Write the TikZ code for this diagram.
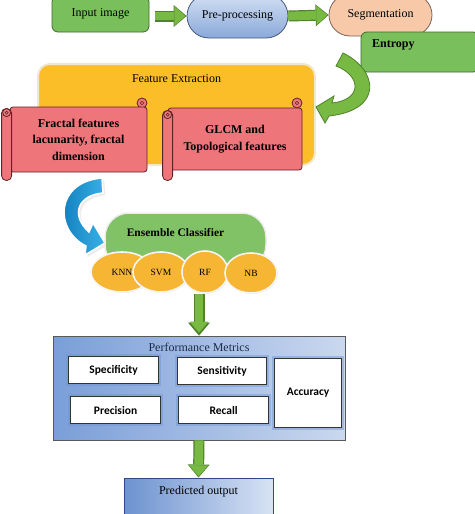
\documentclass[tikz,border=0pt]{standalone}
\usepackage{xcolor}
\usepackage{fontspec}
\setmainfont{Liberation Serif}
\newfontfamily\metricfont{Carlito}
\usepackage{tikz}
\usetikzlibrary{positioning,arrows.meta,shapes.geometric,shapes.misc,calc,shadows}

\definecolor{stagegreen}{HTML}{79BF5C}
\definecolor{stageline}{HTML}{3E6B2B}
\definecolor{preblueA}{HTML}{D3E0F3}
\definecolor{preblueB}{HTML}{8AA8DA}
\definecolor{preline}{HTML}{46587A}
\definecolor{segpeach}{HTML}{F8C9A8}
\definecolor{segline}{HTML}{7A6455}
\definecolor{featgold}{HTML}{FBBE28}
\definecolor{featrim}{HTML}{F2E6CC}
\definecolor{scrollred}{HTML}{EE767B}
\definecolor{scrollline}{HTML}{5E2326}
\definecolor{ensgreen}{HTML}{80C265}
\definecolor{algogold}{HTML}{F6B634}
\definecolor{arrowgreen}{HTML}{78B943}
\definecolor{arrowrim}{HTML}{4F8229}
\definecolor{curveblueA}{HTML}{0A78B8}
\definecolor{curveblueB}{HTML}{3AB0E6}
\definecolor{perfblueA}{HTML}{7A9ED8}
\definecolor{perfblueB}{HTML}{CAD8EF}
\definecolor{predblueA}{HTML}{6C92D0}
\definecolor{predblueB}{HTML}{D8E3F4}
\definecolor{predline}{HTML}{2D4A85}
\definecolor{perftext}{HTML}{1E2B4A}
\definecolor{glowblue}{HTML}{6F93D2}

\begin{document}
\begin{tikzpicture}[
  x=1pt, y=-1pt,
  font=\fontsize{12}{14}\selectfont,
  stage/.style={
    rectangle, rounded corners=6pt,
    draw=stageline, line width=0.8pt,
    fill=stagegreen, inner sep=0pt
  },
  capsule/.style={
    rounded rectangle, draw=preline, line width=0.8pt, inner sep=0pt
  },
  featbox/.style={
    rectangle, rounded corners=12pt,
    draw=featrim, line width=2pt, fill=featgold
  },
  scrollbody/.style={
    rectangle, rounded corners=3pt,
    draw=scrollline, line width=0.8pt, fill=scrollred,
    align=center, font=\fontsize{12}{16.5}\selectfont\bfseries, inner sep=0pt
  },
  scrollpart/.style={draw=scrollline, line width=0.8pt, fill=scrollred},
  ensshape/.style={
    rectangle, rounded corners=24pt,
    draw=white!85!gray, line width=1.5pt, fill=ensgreen
  },
  algo/.style={
    ellipse, fill=algogold, draw=white!92!gray, line width=1.6pt,
    inner sep=0pt, font=\fontsize{9.5}{11}\selectfont,
    drop shadow={opacity=0.2, shadow xshift=0.8pt, shadow yshift=-0.8pt}
  },
  perfbox/.style={
    rectangle, draw=black!65, line width=0.8pt,
    left color=perfblueA, right color=perfblueB
  },
  metric/.style={
    rectangle, fill=white, draw=black!80, line width=0.8pt,
    inner sep=0pt, font=\metricfont\bfseries\fontsize{11.5}{13}\selectfont,
    preaction={draw=glowblue, draw opacity=0.45, line width=5pt}
  },
  predbox/.style={
    rectangle, draw=predline, line width=1pt,
    left color=predblueA, right color=predblueB
  },
  blockarrow/.style={
    preaction={draw=arrowrim, line width=11pt, shorten >=0pt,
      -{Triangle[length=13pt,width=22pt,line width=0pt]}},
    draw=arrowgreen, line width=8.6pt, shorten >=1.2pt,
    -{Triangle[length=11pt,width=19pt,line width=0pt]}
  }
]

\useasboundingbox (0,0) rectangle (474,514);

% --- top row ---
\node[stage, minimum width=97pt, minimum height=36pt] (input) at (100.5,14) {Input image};
\node[capsule, top color=preblueA, bottom color=preblueB,
      minimum width=101pt, minimum height=44pt] (pre) at (237.5,16) {Pre-processing};
\node[capsule, draw=segline, fill=segpeach,
      minimum width=103pt, minimum height=42pt] (seg) at (380.5,15) {Segmentation};
\node[stage, minimum width=118pt, minimum height=40pt] (entropy) at (420,52) {};
\node[font=\fontsize{12}{14}\selectfont\bfseries, anchor=west] (entropytext) at ($(entropy.west)+(8,-7)$) {Entropy};

\draw[blockarrow, shorten <=6pt] (input.east |- pre.west) -- (pre.west);
\draw[blockarrow] (pre.east) -- (seg.west);

% --- feature extraction ---
\node[featbox, minimum width=277pt, minimum height=101pt] (feat) at (176.5,114.5) {};
\node (feattitle) at ($(feat.north)+(0,16)$) {Feature Extraction};

% curved arrow entropy -> features
\draw[draw=arrowrim, line width=0.8pt, fill=arrowgreen]
  (343,53) .. controls (378,70) and (384,110) .. (329,116) -- (325,123) -- (316,107)
  -- (334,96) -- (332,103) .. controls (362,100) and (362,76) .. (336,66) -- cycle;

% scroll 1
\draw[scrollpart] (142,103) circle (5pt);
\node[scrollbody, minimum width=137pt, minimum height=65pt] (fractal) at (78.5,139.5)
  {Fractal features\\lacunarity, fractal\\dimension};
\draw[scrollpart, rounded corners=4.5pt] ($(fractal.north west)+(-8,2)$) rectangle ($(fractal.south west)+(2,8)$);
\draw[scrollpart] ($(fractal.north west)+(-3,6)$) circle (4pt);
\draw[scrollline, line width=0.6pt] ($(fractal.north west)+(-3,6)$) circle (1.5pt);
\draw[scrollline, line width=0.6pt] (142,103) circle (1.8pt);

% scroll 2
\draw[scrollpart] (297,103) circle (5pt);
\node[scrollbody, minimum width=134pt, minimum height=62pt] (glcm) at (235,139)
  {GLCM and\\Topological features};
\draw[scrollpart, rounded corners=4.5pt] ($(glcm.north west)+(-5,3)$) rectangle ($(glcm.south west)+(5,10)$);
\draw[scrollpart] ($(glcm.north west)+(0,7)$) circle (4pt);
\draw[scrollline, line width=0.6pt] ($(glcm.north west)+(0,7)$) circle (1.5pt);
\draw[scrollline, line width=0.6pt] (297,103) circle (1.8pt);

% curved arrow features -> classifier
\draw[draw=white, line width=1.5pt, left color=curveblueA, right color=curveblueB,
      drop shadow={opacity=0.15}]
  (102,178) -- (103,193) .. controls (78,195) and (70,215) .. (89,232) -- (93,223)
  -- (105,243) -- (85,255) -- (86,246) .. controls (54,230) and (55,182) .. (102,178) -- cycle;

% --- ensemble classifier ---
\node[ensshape, minimum width=161pt, minimum height=56pt] (ens) at (185.5,241) {};
\node[font=\fontsize{11.5}{14}\selectfont\bfseries] (enstext) at ($(ens.center)+(-10,-8)$) {Ensemble Classifier};
\node[algo, minimum width=62pt, minimum height=40pt] (knn) at (122,272) {KNN};
\node[algo, minimum width=56pt, minimum height=40pt] (svm) at (161,272) {SVM};
\node[algo, minimum width=46pt, minimum height=42pt] (rf) at (205,272) {RF};
\node[algo, minimum width=52pt, minimum height=40pt] (nb) at (251,273) {NB};

% --- performance metrics ---
\node[perfbox, minimum width=292pt, minimum height=104pt] (perf) at (199,388) {};
\node[text=perftext] (perftitle) at ($(perf.north)+(0,12)$) {Performance Metrics};
\node[metric, minimum width=90pt, minimum height=27pt] (spec) at ($(perf.north west)+(61,34.5)$) {Specificity};
\node[metric, minimum width=89pt, minimum height=27pt] (sens) at ($(perf.north west)+(169.5,35.5)$) {Sensitivity};
\node[metric, minimum width=90pt, minimum height=27pt] (prec) at ($(perf.north west)+(63,74.5)$) {Precision};
\node[metric, minimum width=90pt, minimum height=27pt] (recall) at ($(perf.north west)+(171,74.5)$) {Recall};
\node[metric, minimum width=67pt, minimum height=69pt] (acc) at ($(perf.north west)+(255.5,57.5)$) {Accuracy};

\draw[blockarrow, shorten >=3pt] (rf.south -| perf.north) -- (perf.north);

% --- output ---
\node[predbox, minimum width=149pt, minimum height=36pt] (pred) at (198.5,496) {};
\node (predtext) at ($(pred.center)+(0,-4)$) {Predicted output};
\draw[blockarrow] (perf.south) -- (pred.north);

\end{tikzpicture}
\end{document}
